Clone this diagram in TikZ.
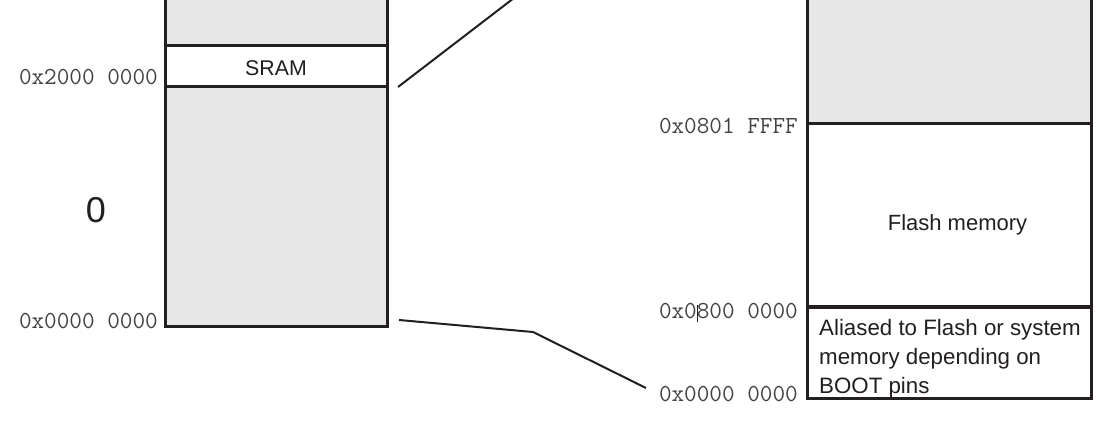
\documentclass[tikz,border=0pt]{standalone}
\usepackage{fontspec}
\setmainfont{Liberation Sans}
\definecolor{memgray}{RGB}{230,231,230}
\definecolor{ink}{RGB}{35,31,32}
\begin{document}
\begin{tikzpicture}[x=1pt,y=-1pt,
  memregion/.style={draw=ink, line width=3pt, inner sep=0pt, outer sep=0pt, anchor=north west},
  addr/.style={font=\ttfamily\fontsize{24.5}{24.5}\selectfont, text=ink!85, inner sep=0pt, anchor=base east},
  lbl/.style={font=\fontsize{22}{26}\selectfont, text=ink, inner sep=0pt},
  link/.style={line width=2pt, draw=ink},
]
\useasboundingbox (0,0) rectangle (1109,422);
\clip (0,0) rectangle (1109,422);
% left column
\node[memregion, fill=memgray, minimum width=222, minimum height=56] (lefttop) at (165,-10) {};
\node[memregion, fill=white, minimum width=222, minimum height=41] (sram) at (165,46) {};
\node[lbl, font=\fontsize{21.3}{25}\selectfont, anchor=base] (sramtxt) at (276,76) {SRAM};
\node[memregion, fill=memgray, minimum width=222, minimum height=239] (leftlow) at (165,87) {};
\node[addr] (a2000) at (158,85) {0x2000 0000};
\node[addr] (a0000l) at (158,328) {0x0000 0000};
\node[lbl, font=\fontsize{36}{40}\selectfont] (zero) at (96,210) {0};
% right column
\node[memregion, fill=memgray, minimum width=284, minimum height=134] (righttop) at (807,-10) {};
\node[memregion, fill=white, minimum width=284, minimum height=182] (flash) at (807,124) {};
\node[lbl, anchor=base] (flashtxt) at (957.5,231) {Flash memory};
\node[memregion, fill=white, minimum width=284, minimum height=91] (alias) at (807,307) {};
\node[lbl, font=\fontsize{22.3}{29}\selectfont, anchor=north west, align=left] (aliastxt) at (819,319.5)
  {Aliased to Flash or system\\memory depending on\\BOOT pins};
\node[addr] (a0801) at (798,134) {0x0801 FFFF};
\node[addr] (a0800) at (798,318) {0x0800 0000};
\node[addr] (a0000r) at (798,401.5) {0x0000 0000};
\draw[line width=0.8pt, ink] (697.3,305) -- (697.3,322);
% connectors
\coordinate (topend) at (514,-2);
\coordinate (bend) at (533,332);
\coordinate (lowend) at (646,388);
\draw[link] ([xshift=11pt]sram.south east) -- (topend);
\draw[link] ([xshift=12pt,yshift=6pt]leftlow.south east) -- (bend) -- (lowend);
\end{tikzpicture}
\end{document}
